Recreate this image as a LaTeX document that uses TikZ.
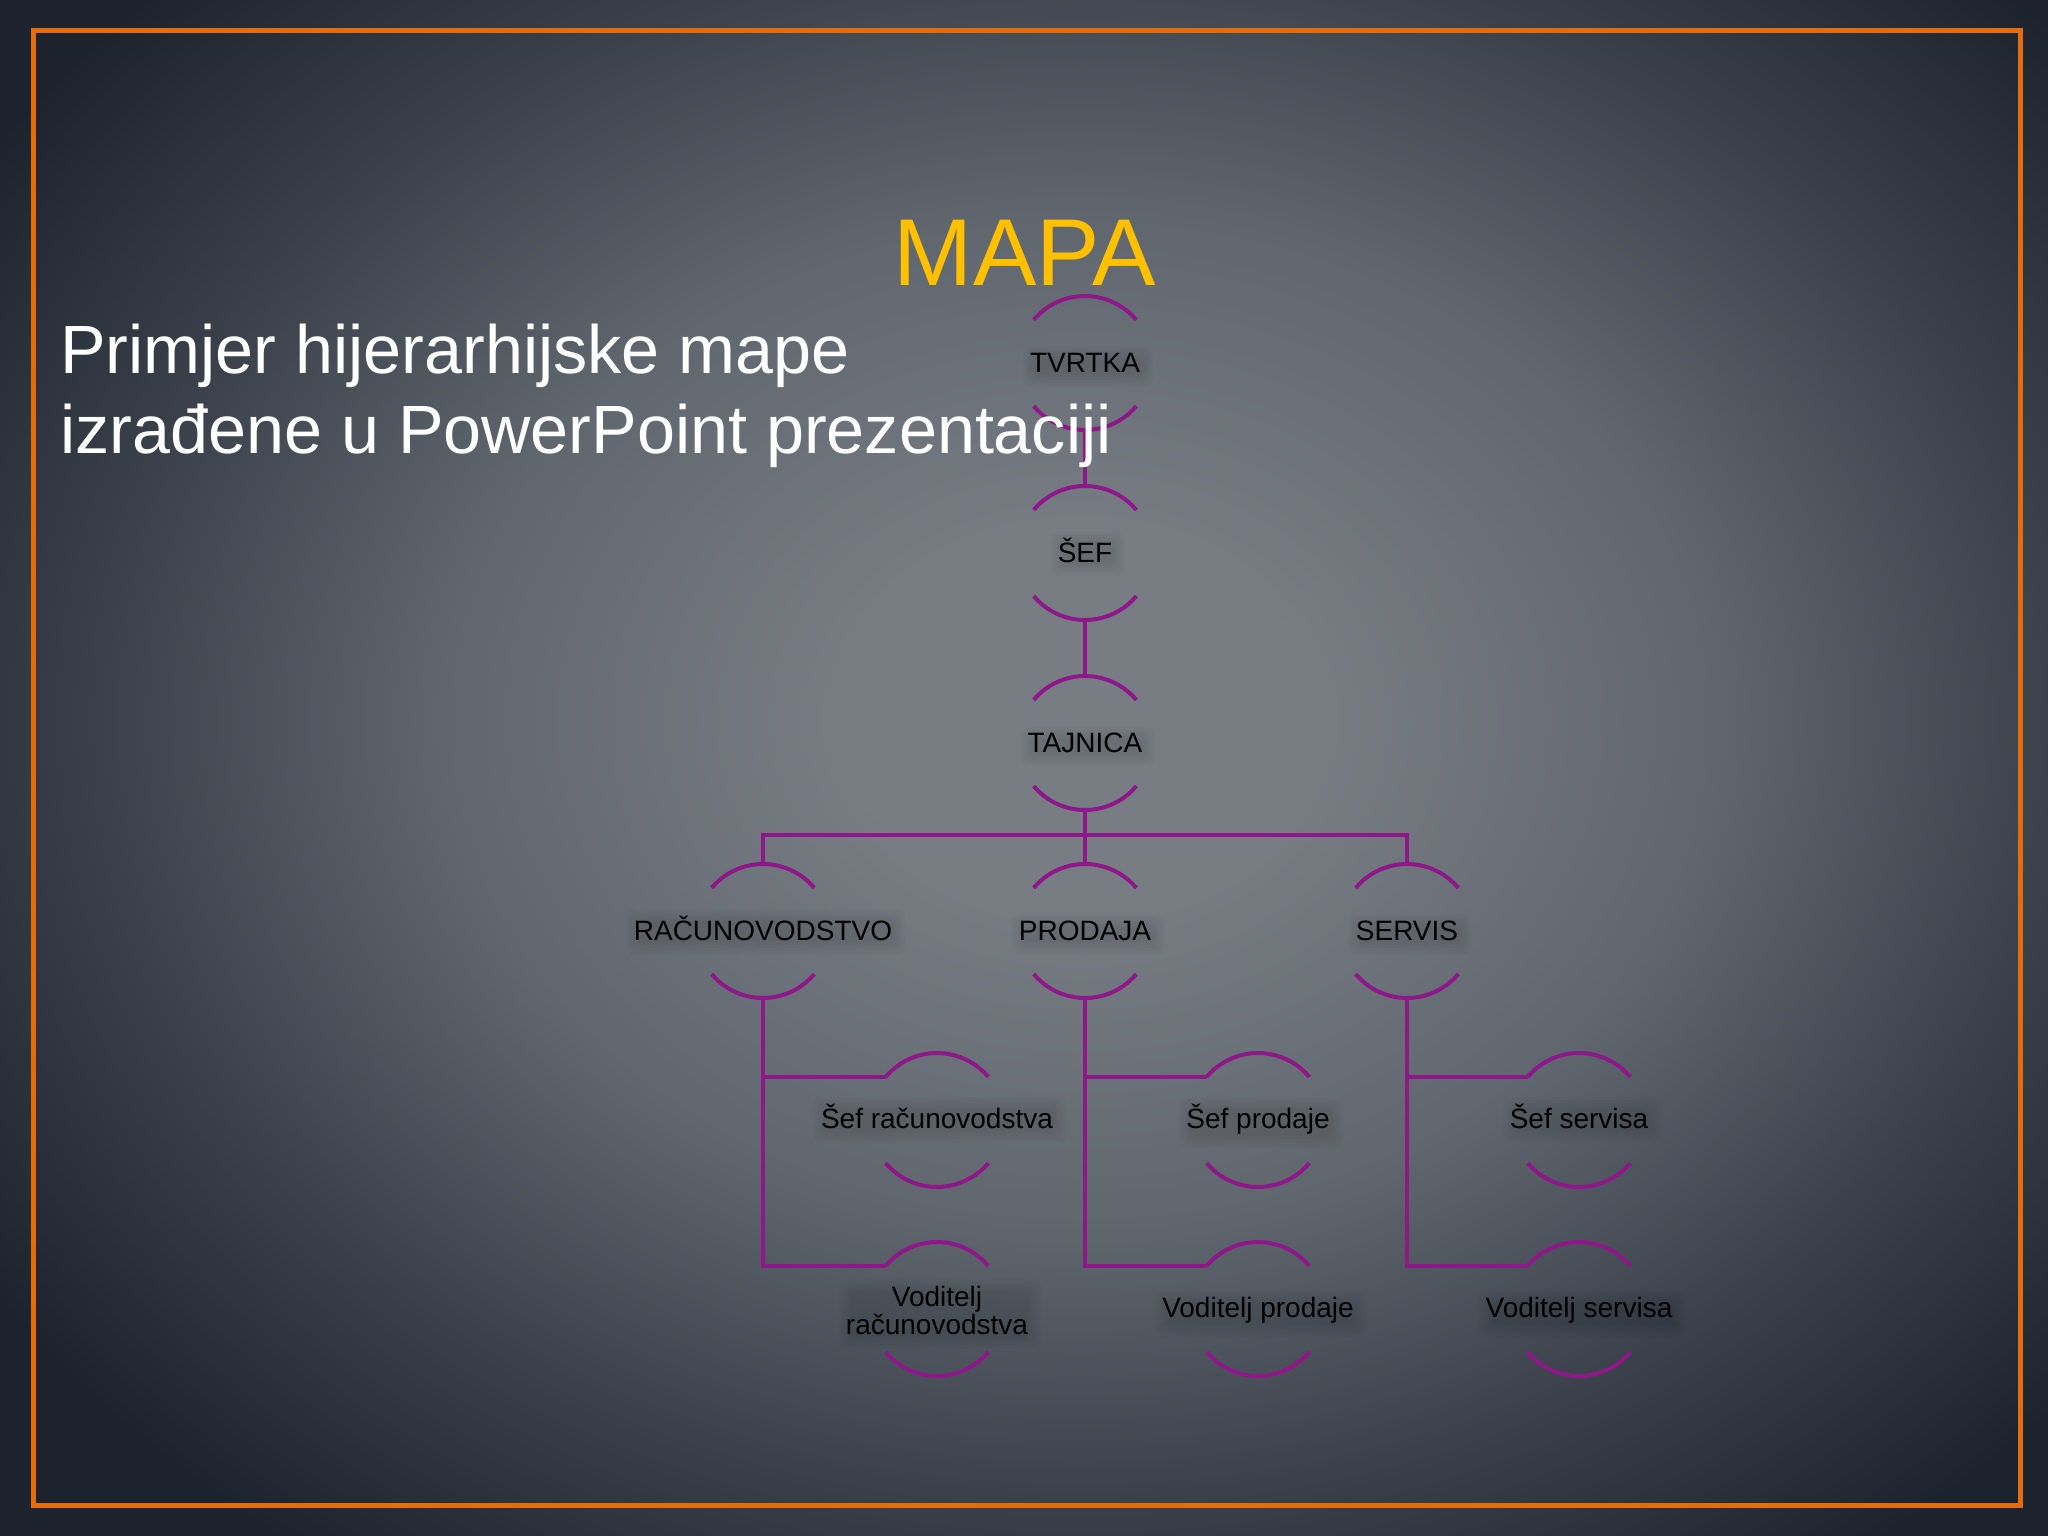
\documentclass[tikz,border=0pt]{standalone}
\usepackage{fontspec}
\setmainfont{Liberation Sans}
\usetikzlibrary{calc}
\definecolor{bgc}{RGB}{120,125,132}
\definecolor{bgm}{RGB}{96,102,110}
\definecolor{bgo}{RGB}{58,64,73}
\definecolor{bge}{RGB}{28,35,45}
\definecolor{lineP}{RGB}{142,24,137}
\definecolor{borderO}{RGB}{228,108,10}
\definecolor{titleG}{RGB}{255,192,0}
\pgfdeclareradialshading{bgshade}{\pgfpoint{0bp}{0bp}}{color(0bp)=(bgc); color(4bp)=(bgc); color(11bp)=(bgm); color(17bp)=(bgo); color(22.5bp)=(bge); color(50bp)=(bge)}
\pgfdeclarelayer{bglayer}
\pgfdeclarelayer{shadowlayer}
\pgfsetlayers{bglayer,shadowlayer,main}
\tikzset{
  ring/.style={circle, minimum size=134pt, inner sep=0pt, outer sep=0pt, draw=none},
  arcline/.style={draw=lineP, line width=4pt},
  conn/.style={draw=lineP, line width=4pt},
  lbl/.style={font=\fontsize{28}{28}\selectfont, text=black, inner sep=0pt, align=center},
  softshadow/.style={fill=black, opacity=0.018},
  subtitle/.style={font=\fontsize{68.3}{80}\selectfont, text=white, inner sep=0pt, anchor=base west},
  titlestyle/.style={font=\fontsize{95}{95}\selectfont, text=titleG, inner sep=0pt, anchor=base},
}
\newcommand\ringnode[5]{%
  \node[ring] (#1) at (#2,#3) {};
  \draw[arcline] (#1.140) arc[start angle=140, end angle=40, radius=67pt];
  \draw[arcline] (#1.220) arc[start angle=220, end angle=320, radius=67pt];
  \node[lbl,#5] (#1t) at (#1.center) {#4};
  \begin{pgfonlayer}{shadowlayer}
    \foreach \e in {-2,1,4,7,10} {
      \fill[softshadow, rounded corners=8pt]
        ($(#1t.south west)+(3pt-\e pt,-4pt-\e pt)$) rectangle ($(#1t.north east)+(3pt+\e pt,-4pt+\e pt)$);
    }
  \end{pgfonlayer}
}
\begin{document}
\begin{tikzpicture}[x=1pt,y=1pt]
\useasboundingbox (0,0) rectangle (2048,-1536);
\begin{pgfonlayer}{bglayer}
\begin{scope}
  \clip (0,0) rectangle (2048,-1536);
  \fill[bge] (0,0) rectangle (2048,-1536);
  \shade[shading=bgshade] (1080,-720) ellipse [x radius=1450, y radius=1150];
\end{scope}
\end{pgfonlayer}
\draw[draw=borderO, line width=5pt] (33,-31) rectangle (2020,-1505);

\node[titlestyle] (title) at (1025,-285) {MAPA};

\ringnode{n1}{1085}{-363}{TVRTKA}{anchor=base,yshift=-9pt}
\ringnode{n2}{1085}{-553}{ŠEF}{anchor=base,yshift=-9pt}
\ringnode{n3}{1085}{-743}{TAJNICA}{anchor=base,yshift=-9pt}
\ringnode{a}{763}{-931}{RAČUNOVODSTVO}{anchor=base,yshift=-9pt}
\ringnode{b}{1085}{-931}{PRODAJA}{anchor=base,yshift=-9pt}
\ringnode{c}{1407}{-931}{SERVIS}{anchor=base,yshift=-9pt}
\ringnode{a1}{937}{-1120}{Šef računovodstva}{anchor=base,yshift=-8pt}
\ringnode{b1}{1258}{-1120}{Šef prodaje}{anchor=base,yshift=-8pt}
\ringnode{c1}{1579}{-1120}{Šef servisa}{anchor=base,yshift=-8pt}
\ringnode{a2}{937}{-1309}{Voditelj\\računovodstva}{anchor=center,yshift=-1pt}
\ringnode{b2}{1258}{-1309}{Voditelj prodaje}{anchor=base,yshift=-8pt}
\ringnode{c2}{1579}{-1309}{Voditelj servisa}{anchor=base,yshift=-8pt}

\coordinate (bar) at (0,-835);
\draw[conn] (n1.south) -- (n2.north);
\draw[conn] (n2.south) -- (n3.north);
\draw[conn] (n3.south) -- (n3.south |- bar);
\draw[conn] (a.north) -- (a.north |- bar) -- (c.north |- bar) -- (c.north);
\draw[conn] (b.north |- bar) -- (b.north);
\draw[conn] (a.south) |- (a1.140);
\draw[conn] (a.south) |- (a2.140);
\draw[conn] (b.south) |- (b1.140);
\draw[conn] (b.south) |- (b2.140);
\draw[conn] (c.south) |- (c1.140);
\draw[conn] (c.south) |- (c2.140);

\node[subtitle] (s1) at (60,-373) {Primjer hijerarhijske mape};
\node[subtitle] (s2) at (60,-453) {izrađene u PowerPoint prezentaciji};
\end{tikzpicture}
\end{document}
